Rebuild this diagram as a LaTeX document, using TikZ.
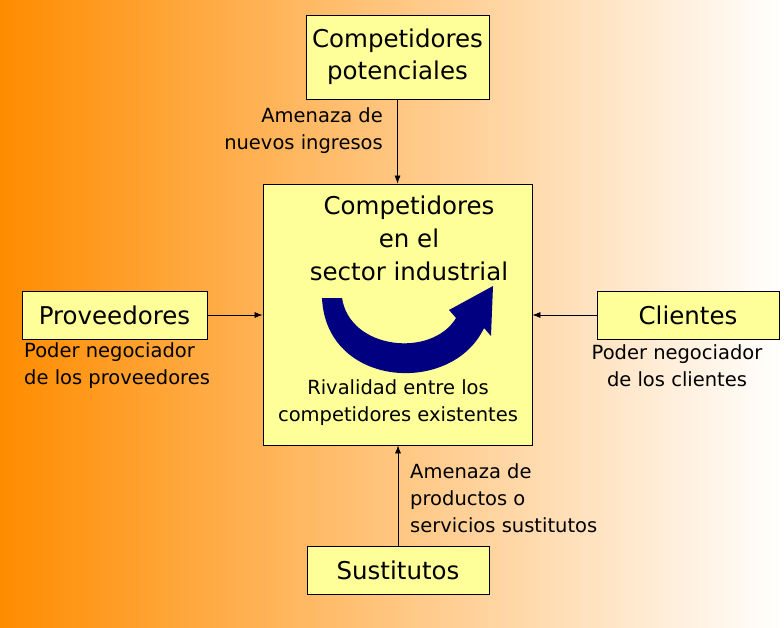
\documentclass[tikz,border=0pt]{standalone}
\usepackage{fontspec}
\usetikzlibrary{arrows.meta}
\setmainfont{DejaVu Sans}
\definecolor{bgor}{RGB}{255,140,0}
\definecolor{boxy}{RGB}{255,255,153}
\definecolor{navy}{RGB}{0,0,128}
\begin{document}
\begin{tikzpicture}[x=1pt,y=-1pt,
 box/.style={draw=black,fill=boxy,line width=0.8pt,inner sep=0pt,align=center,font=\fontsize{24.5}{32}\selectfont},
 lab/.style={font=\fontsize{19.5}{27}\selectfont,inner sep=0pt},
 arr/.style={-{Latex[length=8pt,width=6pt]},line width=0.7pt}]
\useasboundingbox (0,0) rectangle (784,627);
\shade[left color=bgor,right color=white] (0,0) rectangle (784,627);
\node[box,minimum width=183pt,minimum height=84pt] (pot) at (397.5,57) {Competidores\\potenciales};
\node[box,minimum width=269pt,minimum height=261pt] (cen) at (397.5,314.5) {};
\node[box,minimum width=185pt,minimum height=48pt] (pro) at (114.5,315) {Proveedores};
\node[box,minimum width=182pt,minimum height=48pt] (cli) at (688,315) {Clientes};
\node[box,minimum width=182pt,minimum height=48pt] (sus) at (398,570) {Sustitutos};
\node[font=\fontsize{24.5}{33}\selectfont,align=center,inner sep=0pt] (ct) at (409,238) {Competidores\\en el\\sector industrial};
\node[lab,align=center] (riv) at (398,403) {Rivalidad entre los\\competidores existentes};
\fill[navy] (322,298) -- (342,298) .. controls (350,350) and (432,358) .. (456,318) -- (449,310) -- (493,286) -- (491,336) -- (484,328) .. controls (452,396) and (326,388) .. (322,298) -- cycle;
\draw[arr] (pot.south) -- (cen.north -| pot.south);
\draw[arr] (pro.east) -- (cen.west |- pro.east);
\draw[arr] (cli.west) -- (cen.east |- cli.west);
\draw[arr] (sus.north) -- (cen.south -| sus.north);
\node[lab,align=right,anchor=east] (l1) at (383,131) {Amenaza de\\nuevos ingresos};
\node[lab,align=left,anchor=west] (l2) at (24,366) {Poder negociador\\de los proveedores};
\node[lab,align=center] (l3) at (677,366) {Poder negociador\\de los clientes};
\node[lab,align=left,anchor=west] (l4) at (410,498) {Amenaza de\\productos o\\servicios sustitutos};
\end{tikzpicture}
\end{document}
